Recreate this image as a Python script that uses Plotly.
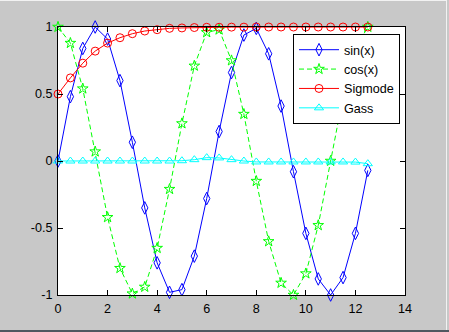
import plotly.graph_objects as go

# ---- data ----
x_vals = [0, 0.5, 1, 1.5, 2, 2.5, 3, 3.5, 4, 4.5, 5, 5.5, 6, 6.5, 7, 7.5,
          8, 8.5, 9, 9.5, 10, 10.5, 11, 11.5, 12, 12.5]
sin_vals = [0.0, 0.48, 0.84, 1.0, 0.91, 0.6, 0.14, -0.35, -0.76, -0.98, -0.96,
            -0.71, -0.28, 0.22, 0.66, 0.94, 0.99, 0.8, 0.41, -0.08, -0.54,
            -0.88, -1.0, -0.87, -0.54, -0.07]
cos_vals = [1.0, 0.88, 0.54, 0.07, -0.42, -0.8, -0.99, -0.94, -0.65, -0.21,
            0.28, 0.71, 0.96, 0.98, 0.75, 0.35, -0.15, -0.6, -0.91, -1.0,
            -0.84, -0.48, 0.0, 0.48, 0.84, 1.0]
sig_vals = [0.5, 0.62, 0.73, 0.82, 0.88, 0.92, 0.95, 0.97, 0.98, 0.99, 0.993,
            0.996, 0.998, 0.998, 0.999, 0.999, 1.0, 1.0, 1.0, 1.0, 1.0, 1.0,
            1.0, 1.0, 1.0, 1.0]
gass_vals = [0.0, 0.0, 0.0, 0.0, 0.0, 0.0, 0.0, 0.0, 0.0, 0.0, 0.002, 0.01,
             0.025, 0.023, 0.01, 0.0, -0.007, -0.007, -0.007, -0.007, -0.007,
             -0.007, -0.007, -0.007, -0.008, -0.02]
series_names = ["sin(x)", "cos(x)", "Sigmode", "Gass"]
x_ticks = [0, 2, 4, 6, 8, 10, 12, 14]
y_ticks = [-1, -0.5, 0, 0.5, 1]
y_tick_labels = ["-1", "-0.5", "0", "0.5", "1"]

FONT = "Liberation Sans, Arial, sans-serif"
FS = 12.6

fig = go.Figure()
fig.add_trace(go.Scatter(
    x=x_vals, y=sin_vals, name=series_names[0], mode="lines+markers",
    line=dict(color="#0000ff", width=1),
    marker=dict(symbol="diamond-tall-open", size=9, color="#0000ff",
                line=dict(width=1, color="#0000ff")),
    cliponaxis=False))
fig.add_trace(go.Scatter(
    x=x_vals, y=cos_vals, name=series_names[1], mode="lines+markers",
    line=dict(color="#00ff00", width=1, dash="5px,3px"),
    marker=dict(symbol="star-open", size=8, color="#00ff00",
                line=dict(width=1, color="#00ff00")),
    cliponaxis=False))
fig.add_trace(go.Scatter(
    x=x_vals, y=sig_vals, name=series_names[2], mode="lines+markers",
    line=dict(color="#ff0000", width=1),
    marker=dict(symbol="circle-open", size=8, color="#ff0000",
                line=dict(width=1, color="#ff0000")),
    cliponaxis=False))
fig.add_trace(go.Scatter(
    x=x_vals, y=gass_vals, name=series_names[3], mode="lines+markers",
    line=dict(color="#00ffff", width=1),
    marker=dict(symbol="triangle-up-open", size=8, color="#00ffff",
                line=dict(width=1, color="#00ffff")),
    cliponaxis=False))

axis_common = dict(showgrid=False, zeroline=False, showline=True,
                   linecolor="black", linewidth=1, mirror="ticks",
                   ticks="inside", ticklen=5, tickcolor="black", tickwidth=1,
                   tickfont=dict(family=FONT, size=FS, color="black"))

fig.update_xaxes(range=[0, 14], tickmode="array", tickvals=x_ticks,
                 ticklabelstandoff=2, **axis_common)
fig.update_yaxes(range=[-1, 1], tickmode="array", tickvals=y_ticks,
                 ticktext=y_tick_labels, ticklabelstandoff=2, **axis_common)

W, H = 449, 332
L, R, T, B = 58, 44, 27, 37
pw, ph = W - L - R, H - T - B


def px(xp):
    return (xp - L) / pw


def py(yp):
    return (H - B - yp) / ph


shapes = [
    dict(type="line", xref="paper", yref="paper", x0=px(0), x1=px(447),
         y0=py(0.5), y1=py(0.5), line=dict(color="#f2f2f2", width=1)),
    dict(type="line", xref="paper", yref="paper", x0=px(446.5), x1=px(446.5),
         y0=py(0), y1=py(330), line=dict(color="#f2f2f2", width=1)),
    dict(type="line", xref="paper", yref="paper", x0=px(0), x1=px(449),
         y0=py(331), y1=py(331), line=dict(color="#505860", width=2)),
]

fig.update_layout(
    width=W, height=H,
    margin=dict(l=L, r=R, t=T, b=B, pad=0),
    paper_bgcolor="#c8c8c8",
    plot_bgcolor="white",
    font=dict(family=FONT, size=FS, color="black"),
    showlegend=True,
    legend=dict(x=px(400), y=py(34), xanchor="right", yanchor="top",
                bgcolor="white", bordercolor="black", borderwidth=1,
                font=dict(family=FONT, size=FS, color="black"),
                itemwidth=40, tracegroupgap=0),
    shapes=shapes,
)

fig.write_html("out.html")
